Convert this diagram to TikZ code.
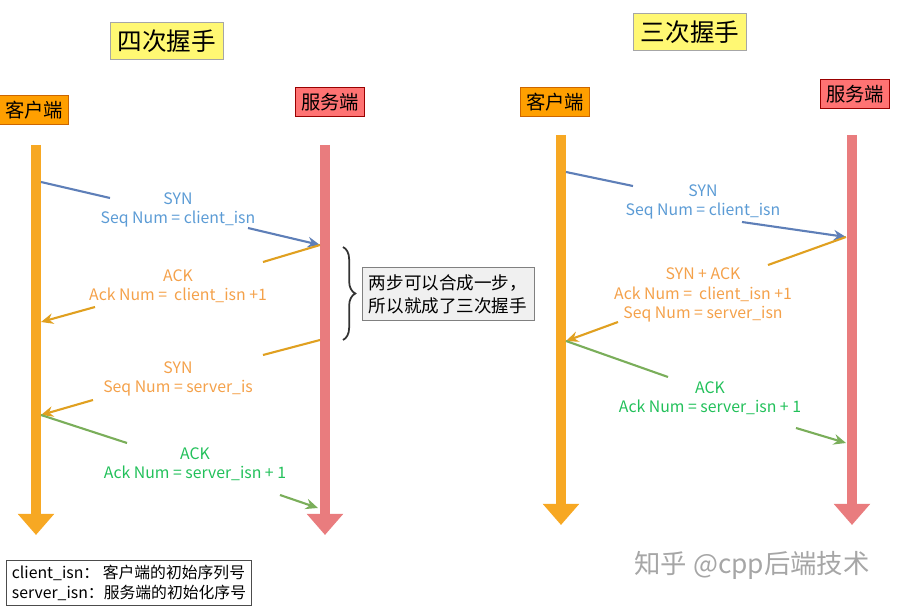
\documentclass[tikz,border=0pt]{standalone}
\usepackage{fontspec}
\setmainfont{Noto Sans CJK SC}
\usetikzlibrary{arrows.meta,decorations.pathreplacing}
\definecolor{cblue}{HTML}{5B9BD5}
\definecolor{lblue}{HTML}{5E7FB8}
\definecolor{corange}{HTML}{F4A14A}
\definecolor{lorange}{HTML}{E0A020}
\definecolor{cgreen}{HTML}{22C05A}
\definecolor{lgreen}{HTML}{7AAE5A}
\definecolor{lifec}{HTML}{F7A823}
\definecolor{lifes}{HTML}{E97C7E}
\tikzset{
 x=0.02cm,y=-0.02cm,
 title/.style={draw=gray!70,fill=yellow!55,font=\fontsize{14}{16}\selectfont,inner sep=4pt,minimum width=2.2cm},
 cli/.style={draw=orange!80!black,fill=orange!75!yellow,font=\fontsize{11}{13}\selectfont,inner sep=3pt},
 srv/.style={draw=red!60!black,fill=red!55!white,font=\fontsize{11}{13}\selectfont,inner sep=3pt},
 lbl/.style={font=\fontsize{9}{11}\selectfont,align=center,inner sep=0pt},
 seg/.style={line width=1.2pt},
 msg/.style={line width=1.2pt,-{Stealth[length=7pt,width=6pt]}},
 cline/.style={line width=6pt,draw=lifec,-{Triangle[length=12pt,width=20pt]}},
 sline/.style={line width=6pt,draw=lifes,-{Triangle[length=12pt,width=20pt]}},
}
\begin{document}
\begin{tikzpicture}
\useasboundingbox (0,0) rectangle (904,608);
% left
\node[title] (t1) at (167,41) {四次握手};
\node[cli] (c1) at (34,110) {客户端};
\node[srv] (s1) at (330,102) {服务端};
\coordinate (c1a) at (36,145); \coordinate (c1b) at (36,535);
\coordinate (s1a) at (325,145); \coordinate (s1b) at (325,535);
\draw[cline] (c1a) -- (c1b);
\draw[sline] (s1a) -- (s1b);
\node[lbl,text=cblue] (l1) at (178,210) {SYN\\Seq Num = client\_isn};
\node[lbl,text=corange] (l2) at (178,286) {ACK\\Ack Num =\ \ client\_isn +1};
\node[lbl,text=corange] (l3) at (178,379) {SYN\\Seq Num = server\_is};
\node[lbl,text=cgreen] (l4) at (195,464) {ACK\\Ack Num = server\_isn + 1};
\coordinate (p1) at (41,182); \coordinate (p2) at (110,198); \coordinate (p3) at (248,228); \coordinate (p4) at (320,245);
\draw[seg,lblue] (p1) -- (p2); \draw[msg,lblue] (p3) -- (p4);
\coordinate (q1) at (263,262); \coordinate (q2) at (95,307); \coordinate (q3) at (41,322);
\draw[seg,lorange] (p4) -- (q1); \draw[msg,lorange] (q2) -- (q3);
\coordinate (r0) at (320,340); \coordinate (r1) at (263,355); \coordinate (r2) at (93,400); \coordinate (r3) at (41,415);
\draw[seg,lorange] (r0) -- (r1); \draw[msg,lorange] (r2) -- (r3);
\coordinate (g1) at (127,443); \coordinate (g2) at (280,495); \coordinate (g3) at (318,508);
\draw[seg,lgreen] (r3) -- (g1); \draw[msg,lgreen] (g2) -- (g3);
\coordinate (b1) at (343,247); \coordinate (b2) at (343,340);
\draw[decorate,decoration={brace,amplitude=7pt},line width=1pt,black!80] (b1) -- (b2);
\node[draw=gray,fill=gray!12,font=\fontsize{10}{13}\selectfont,align=left,inner sep=4pt] (note) at (448,294) {两步可以合成一步，\\所以就成了三次握手};
\node[draw=black!70,font=\fontsize{9}{11}\selectfont,align=left,inner sep=3pt] (leg) at (129,583) {client\_isn： 客户端的初始序列号\\server\_isn：服务端的初始化序号};
% right
\node[title] (t2) at (690,32) {三次握手};
\node[cli] (c2) at (555,102) {客户端};
\node[srv] (s2) at (855,94) {服务端};
\coordinate (c2a) at (561,135); \coordinate (c2b) at (561,525);
\coordinate (s2a) at (852,135); \coordinate (s2b) at (852,525);
\draw[cline] (c2a) -- (c2b);
\draw[sline] (s2a) -- (s2b);
\node[lbl,text=cblue] (m1) at (703,202) {SYN\\Seq Num = client\_isn};
\node[lbl,text=corange] (m2) at (703,295) {SYN + ACK\\Ack Num =\ \ client\_isn +1\\Seq Num = server\_isn};
\node[lbl,text=cgreen] (m3) at (710,398) {ACK\\Ack Num = server\_isn + 1};
\coordinate (u1) at (566,172); \coordinate (u2) at (633,186); \coordinate (u3) at (742,222); \coordinate (u4) at (846,237);
\draw[seg,lblue] (u1) -- (u2); \draw[msg,lblue] (u3) -- (u4);
\coordinate (v1) at (768,265); \coordinate (v2) at (618,322); \coordinate (v3) at (566,341);
\draw[seg,lorange] (u4) -- (v1); \draw[msg,lorange] (v2) -- (v3);
\coordinate (w1) at (668,377); \coordinate (w2) at (796,428); \coordinate (w3) at (846,443);
\draw[seg,lgreen] (v3) -- (w1); \draw[msg,lgreen] (w2) -- (w3);
\node[text=gray!70,font=\fontsize{15}{17}\selectfont] (wm) at (752,565) {知乎 @cpp后端技术};
\end{tikzpicture}
\end{document}
